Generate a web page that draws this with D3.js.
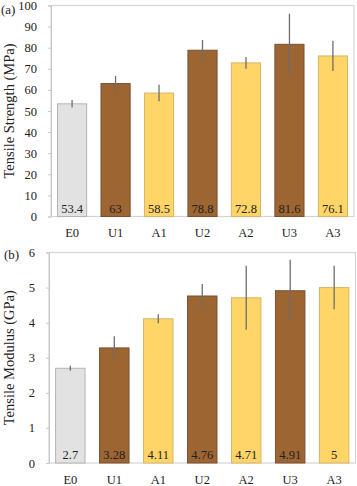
<!DOCTYPE html>
<html lang="en">
<head>
<meta charset="UTF-8">
<title>Tensile</title>
<script src="https://d3js.org/d3.v7.min.js"></script>
<style>
    body { margin: 0; background: #fff; }
    svg text { font-family: "Liberation Serif", "Times New Roman", "DejaVu Serif", serif !important; fill: #222; }
    .frame { fill: none; stroke: #d4d4d4; stroke-width: 1.2; }
    .err { stroke: #6e6e6e; stroke-width: 1.3; }
</style>
</head>
<body>
<script>
    var categories = ["E0", "U1", "A1", "U2", "A2", "U3", "A3"];
    var groups = ["E", "U", "A", "U", "A", "U", "A"];

    var strength = [53.4, 63, 58.5, 78.8, 72.8, 81.6, 76.1];
    var strengthErr = [1.8, 3.6, 3.9, 4.9, 2.8, 14.5, 7.2];
    var strengthLabels = ["53.4", "63", "58.5", "78.8", "72.8", "81.6", "76.1"];
    var strengthTicks = [0, 10, 20, 30, 40, 50, 60, 70, 80, 90, 100];

    var modulus = [2.7, 3.28, 4.11, 4.76, 4.71, 4.91, 5];
    var modulusErr = [0.07, 0.33, 0.13, 0.34, 0.91, 0.88, 0.62];
    var modulusLabels = ["2.7", "3.28", "4.11", "4.76", "4.71", "4.91", "5"];
    var modulusTicks = [0, 1, 2, 3, 4, 5, 6];

    var fills = { E: "#e2e2e2", U: "#9c6532", A: "#ffd568" };
    var strokes = { E: "#b4b4b4", U: "#7a5030", A: "#d8b468" };

    var svg = d3.select("body").append("svg")
        .attr("width", 357).attr("height", 486);

    function panel(opt) {
        var g = svg.append("g");
        var x = d3.scaleBand().domain(categories)
            .range([opt.left, opt.right]).paddingInner(0.33).paddingOuter(0.15);
        var y = d3.scaleLinear().domain([0, opt.max]).range([opt.bottom, opt.top]);

        g.append("rect").attr("class", "frame")
            .attr("x", opt.left).attr("y", opt.top)
            .attr("width", opt.right - opt.left).attr("height", opt.bottom - opt.top);

        var yAxis = g.append("g")
            .attr("transform", "translate(" + opt.left + ",0)")
            .call(d3.axisLeft(y).tickValues(opt.ticks).tickFormat(d3.format("d"))
                .tickSize(3).tickPadding(11));
        yAxis.attr("font-family", null);
        yAxis.select(".domain").attr("stroke", "#c8c8c8");
        yAxis.selectAll(".tick line").attr("stroke", "#c8c8c8");
        yAxis.selectAll("text").style("font-size", "12.5px").attr("fill", "#222");

        var xAxis = g.append("g")
            .attr("transform", "translate(0," + opt.bottom + ")")
            .call(d3.axisBottom(x).tickSize(0).tickPadding(12));
        xAxis.attr("font-family", null);
        xAxis.select(".domain").remove();
        xAxis.selectAll("text").style("font-size", "12.5px").attr("fill", "#222");

        g.selectAll(".bar").data(opt.values).enter().append("rect")
            .attr("x", function(d, i) { return x(categories[i]); })
            .attr("y", function(d) { return y(d); })
            .attr("width", x.bandwidth())
            .attr("height", function(d) { return opt.bottom - y(d); })
            .attr("fill", function(d, i) { return fills[groups[i]]; })
            .attr("stroke", function(d, i) { return strokes[groups[i]]; })
            .attr("stroke-width", 1);

        g.selectAll(".err").data(opt.values).enter().append("line")
            .attr("class", "err")
            .attr("x1", function(d, i) { return x(categories[i]) + x.bandwidth() / 2; })
            .attr("x2", function(d, i) { return x(categories[i]) + x.bandwidth() / 2; })
            .attr("y1", function(d, i) { return y(d - opt.err[i]); })
            .attr("y2", function(d, i) { return y(d + opt.err[i]); });

        g.selectAll(".val").data(opt.labels).enter().append("text")
            .attr("x", function(d, i) { return x(categories[i]) + x.bandwidth() / 2; })
            .attr("y", opt.bottom - 4)
            .attr("text-anchor", "middle")
            .style("font-size", "12.5px")
            .text(function(d) { return d; });

        g.append("text")
            .attr("transform", "translate(" + opt.titleX + "," + ((opt.top + opt.bottom) / 2) + ") rotate(-90)")
            .attr("text-anchor", "middle")
            .style("font-size", "14.5px")
            .text(opt.title);

        g.append("text")
            .attr("x", opt.tagX).attr("y", opt.tagY)
            .style("font-size", "13px")
            .text(opt.tag);
    }

    panel({
        values: strength, err: strengthErr, labels: strengthLabels, ticks: strengthTicks,
        max: 100, left: 51, right: 354, top: 5.5, bottom: 216.5,
        title: "Tensile Strength (MPa)", titleX: 14, tag: "(a)", tagX: 1, tagY: 14
    });

    panel({
        values: modulus, err: modulusErr, labels: modulusLabels, ticks: modulusTicks,
        max: 6, left: 49, right: 355.5, top: 252.5, bottom: 463,
        title: "Tensile Modulus (GPa)", titleX: 14, tag: "(b)", tagX: 4, tagY: 259
    });
</script>
</body>
</html>
